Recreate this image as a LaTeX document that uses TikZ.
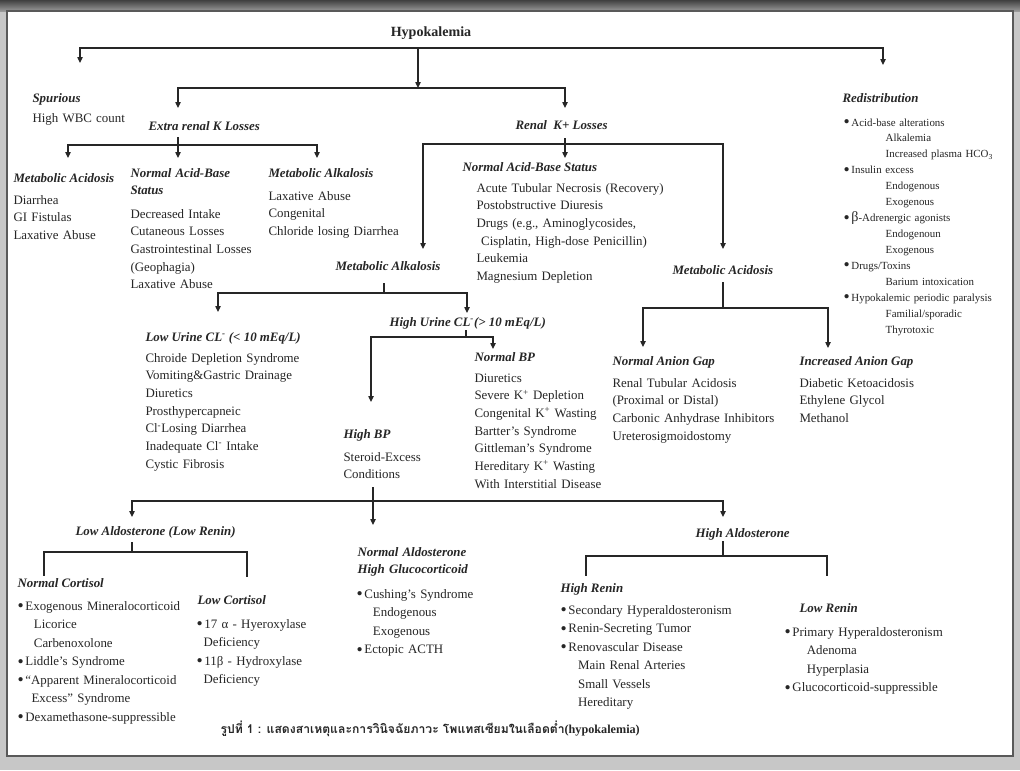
\documentclass[tikz,border=0pt]{standalone}
\usepackage{fontspec}
\setmainfont{Liberation Serif}
\newfontfamily\thaifont[Script=Thai]{Loma}
\usetikzlibrary{arrows.meta}
\tikzset{
  arr/.style={-{Triangle[length=5pt,width=4.5pt]}},
  hd/.style={anchor=base west, inner sep=0pt, font=\bfseries\itshape\fontsize{11}{15.1}\selectfont},
  hdtwo/.style={hd, text width=5cm, align=left},
  lst/.style={anchor=base west, inner sep=0pt, font=\fontsize{11}{15.1}\selectfont, text width=7cm, align=left},
  lstb/.style={lst, font=\fontsize{11}{15.8}\selectfont},
  sml/.style={lst, font=\fontsize{9.3}{13.6}\selectfont},
}
\newcommand{\bul}{\raisebox{-1.3pt}{\fontsize{15}{0}\selectfont\textbullet}\kern1.5pt}
\begin{document}
\begin{tikzpicture}[x=0.03cm,y=-0.03cm,line width=0.9pt,black!85]
  \useasboundingbox (0,0) rectangle (1020,770);
  \fill[black!22] (0,0) rectangle (1020,770);
  \shade[top color=black!75, bottom color=black!40] (0,0) rectangle (1020,11);
  \draw[black!65, line width=1.2pt, fill=white] (7,11) rectangle (1013,756);

  \node[anchor=base, inner sep=0pt, font=\bfseries\fontsize{12}{14}\selectfont] (hypo) at (431,36) {Hypokalemia};

  \node[hd] (spur) at (32,102) {Spurious};
  \node[lst] (spurL) at (32,122) {High WBC count};
  \node[hd] (extra) at (148,130) {Extra renal K Losses};
  \node[hd] (renal) at (515,129) {Renal~ K+ Losses};
  \node[hd] (redis) at (842,102) {Redistribution};
  \node[sml] (redisL) at (843,126) {\bul Acid-base alterations\\
    \hspace*{36pt}Alkalemia\\
    \hspace*{36pt}Increased plasma HCO\textsubscript{3}\\
    \bul Insulin excess\\
    \hspace*{36pt}Endogenous\\
    \hspace*{36pt}Exogenous\\
    \bul {\large β}-Adrenergic agonists\\
    \hspace*{36pt}Endogenoun\\
    \hspace*{36pt}Exogenous\\
    \bul Drugs/Toxins\\
    \hspace*{36pt}Barium intoxication\\
    \bul Hypokalemic periodic paralysis\\
    \hspace*{36pt}Familial/sporadic\\
    \hspace*{36pt}Thyrotoxic};

  \node[hd] (eAcid) at (13,182) {Metabolic Acidosis};
  \node[lst] (eAcidL) at (13,204) {Diarrhea\\ GI Fistulas\\ Laxative Abuse};
  \node[hdtwo] (eNorm) at (130,177) {Normal Acid-Base\\ Status};
  \node[lst] (eNormL) at (130,218) {Decreased Intake\\ Cutaneous Losses\\ Gastrointestinal Losses\\ (Geophagia)\\ Laxative Abuse};
  \node[hd] (eAlk) at (268,177) {Metabolic Alkalosis};
  \node[lst] (eAlkL) at (268,200) {Laxative Abuse\\ Congenital\\ Chloride losing Diarrhea};

  \node[hd] (rNorm) at (462,171) {Normal Acid-Base Status};
  \node[lst] (rNormL) at (476,192) {Acute Tubular Necrosis (Recovery)\\ Postobstructive Diuresis\\ Drugs (e.g., Aminoglycosides,\\ \hspace*{4pt}Cisplatin, High-dose Penicillin)\\ Leukemia\\ Magnesium Depletion};
  \node[hd] (rAlk) at (335,270) {Metabolic Alkalosis};
  \node[hd] (rAcid) at (672,274) {Metabolic Acidosis};

  \node[hd] (lowCl) at (145,341) {Low Urine CL\textsuperscript{-} (< 10 mEq/L)};
  \node[lst] (lowClL) at (145,362) {Chroide Depletion Syndrome\\ Vomiting\&Gastric Drainage\\ Diuretics\\ Prosthypercapneic\\ Cl\textsuperscript{-}Losing Diarrhea\\ Inadequate Cl\textsuperscript{-} Intake\\ Cystic Fibrosis};
  \node[hd] (highCl) at (389,326) {High Urine CL\textsuperscript{-}(> 10 mEq/L)};
  \node[hd] (nBP) at (474,361) {Normal BP};
  \node[lst] (nBPL) at (474,382) {Diuretics\\ Severe K\textsuperscript{+} Depletion\\ Congenital K\textsuperscript{+} Wasting\\ Bartter's Syndrome\\ Gittleman's Syndrome\\ Hereditary K\textsuperscript{+} Wasting\\ With Interstitial Disease};
  \node[hd] (hBP) at (343,438) {High BP};
  \node[lst] (hBPL) at (343,461) {Steroid-Excess\\ Conditions};

  \node[hd] (nGap) at (612,365) {Normal Anion Gap};
  \node[lst] (nGapL) at (612,387) {Renal Tubular Acidosis\\ (Proximal or Distal)\\ Carbonic Anhydrase Inhibitors\\ Ureterosigmoidostomy};
  \node[hd] (iGap) at (799,365) {Increased Anion Gap};
  \node[lst] (iGapL) at (799,387) {Diabetic Ketoacidosis\\ Ethylene Glycol\\ Methanol};

  \node[hd] (lowAldo) at (75,535) {Low Aldosterone (Low Renin)};
  \node[hd] (nCort) at (17,587) {Normal Cortisol};
  \node[lstb] (nCortL) at (17,610) {\bul Exogenous Mineralocorticoid\\
    \hspace*{14pt}Licorice\\
    \hspace*{14pt}Carbenoxolone\\
    \bul Liddle's Syndrome\\
    \bul “Apparent Mineralocorticoid\\
    \hspace*{12pt}Excess” Syndrome\\
    \bul Dexamethasone-suppressible};
  \node[hd] (lCort) at (197,604) {Low Cortisol};
  \node[lstb] (lCortL) at (196,628) {\bul 17 α - Hyeroxylase\\
    \hspace*{6pt}Deficiency\\
    \bul 11β - Hydroxylase\\
    \hspace*{6pt}Deficiency};
  \node[hdtwo] (nAldo) at (357,556) {Normal Aldosterone\\ High Glucocorticoid};
  \node[lstb] (nAldoL) at (356,598) {\bul Cushing's Syndrome\\
    \hspace*{14pt}Endogenous\\
    \hspace*{14pt}Exogenous\\
    \bul Ectopic ACTH};
  \node[hd] (hAldo) at (695,537) {High Aldosterone};
  \node[hd] (hRen) at (560,592) {High Renin};
  \node[lstb] (hRenL) at (560,614) {\bul Secondary Hyperaldosteronism\\
    \bul Renin-Secreting Tumor\\
    \bul Renovascular Disease\\
    \hspace*{15pt}Main Renal Arteries\\
    \hspace*{15pt}Small Vessels\\
    \hspace*{15pt}Hereditary};
  \node[hd] (lRen) at (799,612) {Low Renin};
  \node[lstb] (lRenL) at (784,636) {\bul Primary Hyperaldosteronism\\
    \hspace*{19pt}Adenoma\\
    \hspace*{19pt}Hyperplasia\\
    \bul Glucocorticoid-suppressible};

  \node[anchor=base west, inner sep=0pt, font=\bfseries\fontsize{10.4}{12}\selectfont] (cap) at (220,733)
    {{\thaifont รูปที่ 1 : แสดงสาเหตุและการวินิจฉัยภาวะ โพแทสเซียมในเลือดต่ำ}(hypokalemia)};

  \coordinate (j1) at (418,48);   \coordinate (j2) at (418,88);
  \coordinate (aSpur) at (80,63); \coordinate (aRedis) at (883,65);
  \coordinate (aExtra) at (178,108); \coordinate (aRenal) at (565,108);
  \draw[arr] (j1) -| (aSpur);
  \draw[arr] (j1) -| (aRedis);
  \draw[arr] (j1) -- (j2);
  \draw[arr] (j2) -| (aExtra);
  \draw[arr] (j2) -| (aRenal);

  \coordinate (s3) at (178,137); \coordinate (j3) at (178,145);
  \coordinate (a3a) at (68,158); \coordinate (a3b) at (178,158); \coordinate (a3c) at (317,158);
  \draw[arr] (s3) -- (a3b);
  \draw[arr] (j3) -| (a3a);
  \draw[arr] (j3) -| (a3c);

  \coordinate (s4) at (565,138); \coordinate (j4) at (565,144);
  \coordinate (a4a) at (423,249); \coordinate (a4b) at (565,158); \coordinate (a4c) at (723,249);
  \draw[arr] (s4) -- (a4b);
  \draw[arr] (j4) -| (a4a);
  \draw[arr] (j4) -| (a4c);

  \coordinate (s5) at (384,283); \coordinate (j5) at (384,293);
  \coordinate (a5a) at (218,312); \coordinate (a5b) at (467,313);
  \draw (s5) -- (j5);
  \draw[arr] (j5) -| (a5a);
  \draw[arr] (j5) -| (a5b);

  \coordinate (s6) at (466,330); \coordinate (j6) at (466,337);
  \coordinate (a6a) at (371,402); \coordinate (a6b) at (493,349);
  \draw (s6) -- (j6);
  \draw[arr] (j6) -| (a6a);
  \draw[arr] (j6) -| (a6b);

  \coordinate (s7) at (723,282); \coordinate (j7) at (723,308);
  \coordinate (a7a) at (643,347); \coordinate (a7b) at (828,348);
  \draw (s7) -- (j7);
  \draw[arr] (j7) -| (a7a);
  \draw[arr] (j7) -| (a7b);

  \coordinate (s8) at (373,487); \coordinate (j8) at (373,501);
  \coordinate (a8a) at (132,517); \coordinate (a8b) at (373,525); \coordinate (a8c) at (723,517);
  \draw[arr] (s8) -- (a8b);
  \draw[arr] (j8) -| (a8a);
  \draw[arr] (j8) -| (a8c);

  \coordinate (s9) at (132,542); \coordinate (j9) at (132,552);
  \coordinate (e9a) at (44,576); \coordinate (e9b) at (247,577);
  \draw (s9) -- (j9);
  \draw (j9) -| (e9a);
  \draw (j9) -| (e9b);

  \coordinate (s10) at (723,541); \coordinate (j10) at (723,556);
  \coordinate (e10a) at (586,576); \coordinate (e10b) at (827,576);
  \draw (s10) -- (j10);
  \draw (j10) -| (e10a);
  \draw (j10) -| (e10b);
\end{tikzpicture}
\end{document}
